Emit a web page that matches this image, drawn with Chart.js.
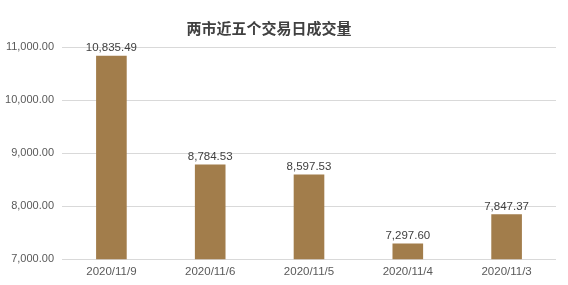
<!DOCTYPE html>
<html>
<head>
<meta charset="utf-8">
<script src="https://cdn.jsdelivr.net/npm/chart.js@4/dist/chart.umd.min.js"></script>
<style>
html,body{margin:0;padding:0;background:#fff;}
#wrap{width:568px;height:285px;}
</style>
</head>
<body>
<div id="wrap"><canvas id="c" width="568" height="285"></canvas></div>
<script>
const categories = ["2020/11/9", "2020/11/6", "2020/11/5", "2020/11/4", "2020/11/3"];
const volumes = [10835.49, 8784.53, 8597.53, 7297.60, 7847.37];
const yMin = 7000;
const yMax = 11000;
const yStep = 1000;
const titleText = "两市近五个交易日成交量";

const fmt = v => v.toLocaleString("en-US", {minimumFractionDigits: 2, maximumFractionDigits: 2});

const labelPlugin = {
  id: "barLabels",
  afterDatasetsDraw(chart) {
    const ctx = chart.ctx;
    const meta = chart.getDatasetMeta(0);
    ctx.save();
    ctx.font = "11.5px 'Liberation Sans', 'DejaVu Sans', sans-serif";
    ctx.fillStyle = "#404040";
    ctx.textAlign = "center";
    ctx.textBaseline = "bottom";
    meta.data.forEach((bar, i) => {
      ctx.fillText(fmt(chart.data.datasets[0].data[i]), bar.x, bar.y - 2);
    });
    // chart title
    ctx.font = "bold 15px 'Noto Sans CJK SC', sans-serif";
    ctx.fillStyle = "#404040";
    ctx.textBaseline = "middle";
    ctx.fillText(titleText, 269, 28);
    ctx.restore();
  }
};

new Chart(document.getElementById("c"), {
  type: "bar",
  data: {
    labels: categories,
    datasets: [{
      data: volumes,
      backgroundColor: "#A27D4B",
      barPercentage: 0.62,
      categoryPercentage: 0.5
    }]
  },
  options: {
    responsive: false,
    animation: false,
    devicePixelRatio: 1,
    layout: {padding: {left: 0, right: 12, top: 47, bottom: 0}},
    plugins: {
      legend: {display: false},
      tooltip: {enabled: false},
      title: {display: false}
    },
    scales: {
      x: {
        grid: {display: false, drawTicks: false},
        border: {display: false},
        ticks: {color: "#595959", font: {size: 11.5, family: "'Liberation Sans', 'DejaVu Sans', sans-serif"}, padding: 6}
      },
      y: {
        min: yMin,
        max: yMax,
        afterFit(scale) { scale.width = 62; },
        grid: {color: "#d9d9d9", drawTicks: false},
        border: {display: false},
        ticks: {
          stepSize: yStep,
          color: "#595959",
          padding: 8,
          font: {size: 11, family: "'Liberation Sans', 'DejaVu Sans', sans-serif"},
          callback: v => fmt(v)
        }
      }
    }
  },
  plugins: [labelPlugin]
});
</script>
</body>
</html>
